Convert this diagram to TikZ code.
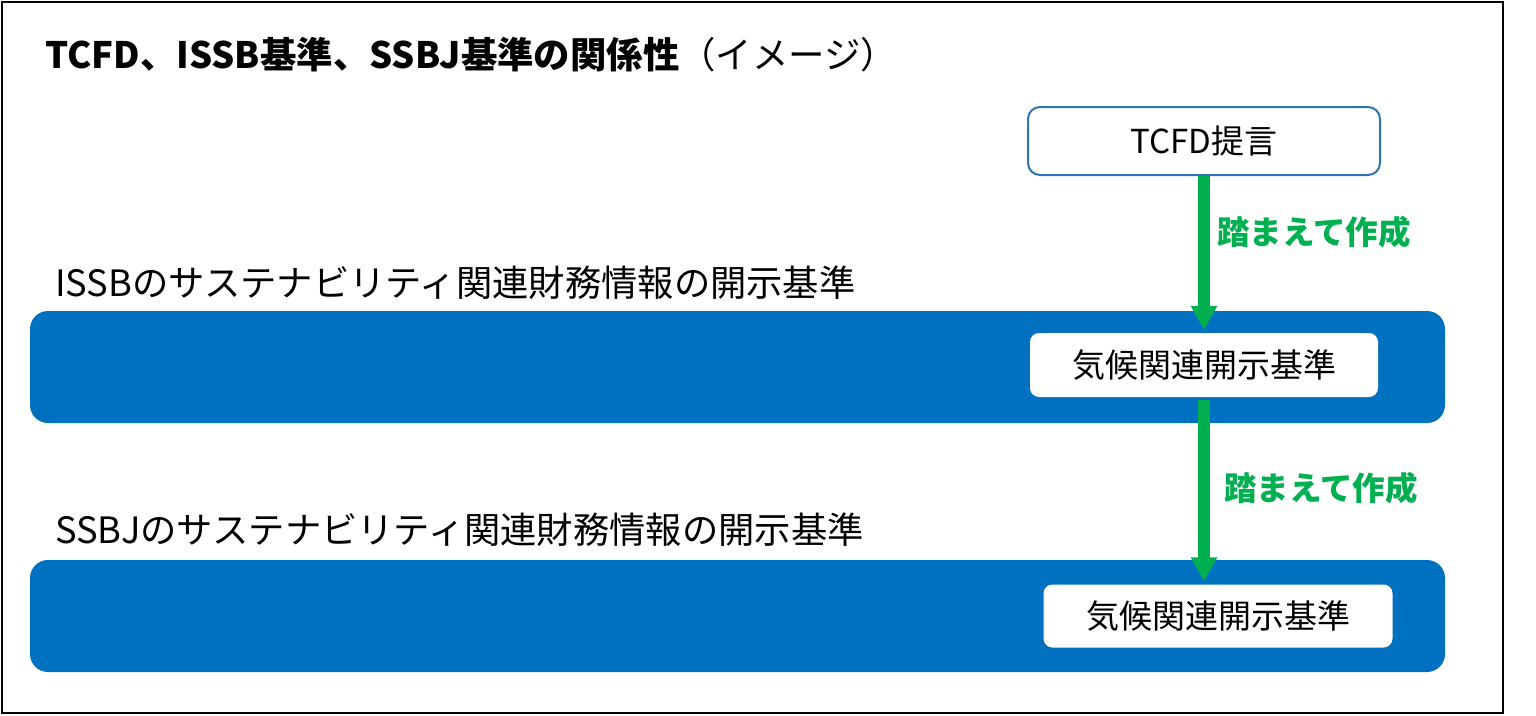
\documentclass[tikz,border=0pt]{standalone}
\usepackage{fontspec}
\setmainfont{Noto Sans CJK JP}
\usetikzlibrary{arrows.meta}
\definecolor{bandblue}{HTML}{0070C0}
\definecolor{edgeblue}{HTML}{2E75B6}
\definecolor{arrgreen}{HTML}{00B050}
\tikzset{
  band/.style={fill=bandblue, draw=none, rounded corners=18pt},
  whitebox/.style={fill=white, draw=none, rounded corners=9pt, inner sep=0pt,
    font=\fontsize{33}{38}\selectfont},
  topbox/.style={fill=white, draw=edgeblue, line width=2pt, rounded corners=12pt, inner sep=0pt,
    font=\fontsize{33}{38}\selectfont},
  bigarrow/.style={draw=arrgreen, line width=12pt,
    -{Triangle[length=24pt 0 0, width=25pt 0 0]}},
  arrlabel/.style={text=arrgreen, font=\bfseries\fontsize{32.5}{38}\selectfont, anchor=west, inner sep=0pt},
  headtext/.style={font=\fontsize{36.3}{42}\selectfont, anchor=west, inner sep=0pt},
}
\begin{document}
\begin{tikzpicture}[x=1pt,y=-1pt]
\useasboundingbox (0,0) rectangle (1536,715);
\draw[line width=2pt] (2,2) rectangle (1503,713);
\node[anchor=west, inner sep=0pt, font=\fontsize{36.4}{42}\selectfont] (title) at (45,55)
  {\textbf{TCFD、ISSB基準、SSBJ基準の関係性}（イメージ）};
% top box
\node[topbox, minimum width=352pt, minimum height=68pt] (tcfd) at (1204,141) {TCFD提言};
% ISSB
\node[headtext] (issbtxt) at (55,283) {ISSBのサステナビリティ関連財務情報の開示基準};
\path[band] (30,311) rectangle (1445,423);
\node[whitebox, minimum width=348pt, minimum height=64pt] (cl1) at (1204,365) {気候関連開示基準};
% SSBJ
\node[headtext] (ssbjtxt) at (55,530) {SSBJのサステナビリティ関連財務情報の開示基準};
\path[band] (30,560) rectangle (1445,672);
\node[whitebox, minimum width=349pt, minimum height=63pt] (cl2) at (1218,616) {気候関連開示基準};
% arrows
\coordinate (a1s) at ([yshift=0pt]tcfd.south);
\coordinate (a1e) at ([yshift=3pt]cl1.north);
\draw[bigarrow] (a1s) -- (a1e);
\coordinate (a2s) at ([yshift=-3pt]cl1.south);
\coordinate (a2e) at ([yshift=3pt]cl1.south |- cl2.north);
\draw[bigarrow] (a2s) -- (a2e);
\node[arrlabel] (lab1) at (1217,232) {踏まえて作成};
\node[arrlabel] (lab2) at (1224,488) {踏まえて作成};
\end{tikzpicture}
\end{document}
